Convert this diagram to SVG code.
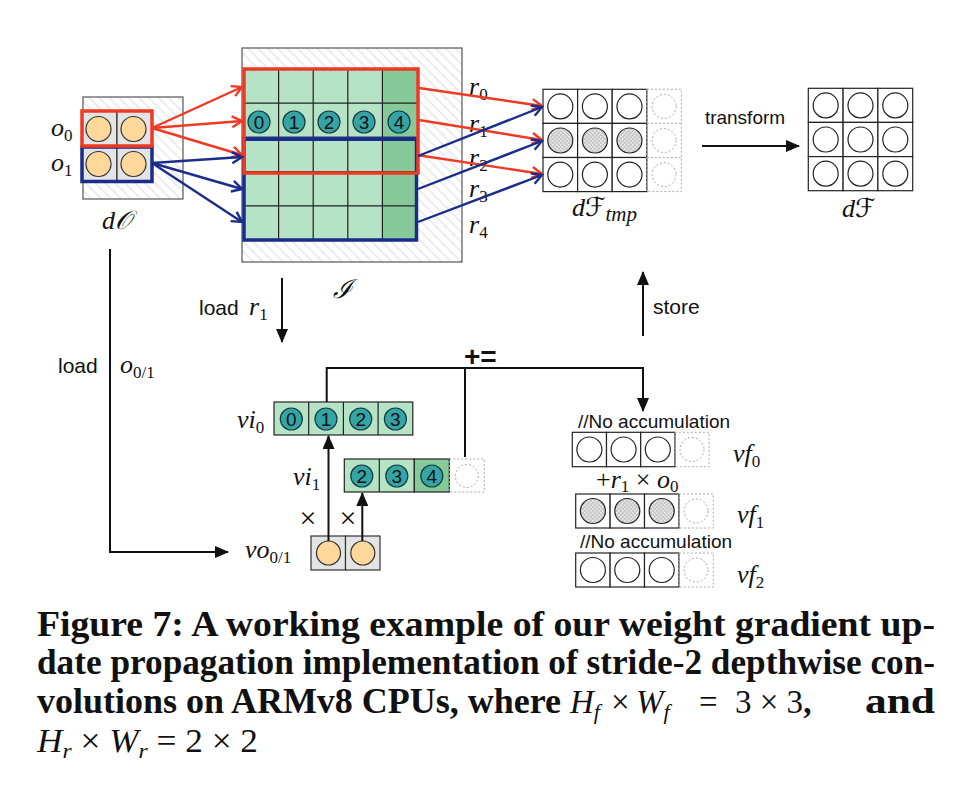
<svg xmlns="http://www.w3.org/2000/svg" width="975" height="786" viewBox="0 0 975 786">
<style>
.frame{fill:url(#hatch);stroke:#555;stroke-width:1.2}
.gcell{fill:#e4e4e4;stroke:#333;stroke-width:1.2}
.peach{fill:#fdd89a;stroke:#333;stroke-width:1.2}
.grn{fill:#b6e2c6}
.dgrn{fill:#86ca9a}
.grid{fill:none;stroke:#222;stroke-width:1.2}
.teal{fill:#35a4a6;stroke:#163c3c;stroke-width:1.2}
.dig{font-family:"Liberation Sans",Arial,sans-serif;font-size:19px;fill:#111;text-anchor:middle}
.wc{fill:#fff;stroke:#222;stroke-width:1.2}
.hc{fill:url(#dots);stroke:#222;stroke-width:1.2}
.dotc{fill:none;stroke:#aaa;stroke-width:1;stroke-dasharray:2 2}
.wcell{fill:#fff;stroke:#222;stroke-width:1.2}
.m{font-family:"Liberation Serif","Times New Roman",serif;font-style:italic;font-size:26px;fill:#111}
.sub{font-size:17px;font-style:normal}
.s{font-family:"Liberation Sans",Arial,sans-serif;fill:#111}
.red{stroke:#ee3a24;stroke-width:2.4;fill:none}
.blue{stroke:#1b2d8c;stroke-width:2.4;fill:none}
.blk{stroke:#111;stroke-width:2;fill:none}
.x{font-family:"Liberation Serif","Times New Roman",serif;font-size:30px;fill:#111;text-anchor:middle}
.cap{font-family:"Liberation Serif","Times New Roman",serif;font-weight:bold;font-size:35px;fill:#111}
.capm{font-family:"Liberation Serif","Times New Roman",serif;font-size:33px;fill:#111}
.it{font-style:italic}
.caps{font-size:22px}
</style>
<defs>
<pattern id="hatch" patternUnits="userSpaceOnUse" width="7" height="7" patternTransform="rotate(-45)">
<rect width="7" height="7" fill="#fff"/>
<rect width="2" height="7" fill="#ececec"/>
</pattern>
<pattern id="dots" patternUnits="userSpaceOnUse" width="4" height="4">
<rect width="4" height="4" fill="#c9c9c9"/>
<rect width="1.6" height="1.6" fill="#ececec"/>
<rect x="2" y="2" width="1.6" height="1.6" fill="#ececec"/>
</pattern>
<marker id="aR" markerWidth="14" markerHeight="14" refX="12" refY="7" orient="auto" markerUnits="userSpaceOnUse">
<path d="M2,1.5 L12,7 L2,12.5" fill="none" stroke="#ee3a24" stroke-width="2.4"/>
</marker>
<marker id="aB" markerWidth="14" markerHeight="14" refX="12" refY="7" orient="auto" markerUnits="userSpaceOnUse">
<path d="M2,1.5 L12,7 L2,12.5" fill="none" stroke="#1b2d8c" stroke-width="2.4"/>
</marker>
<marker id="aK" markerWidth="14" markerHeight="12" refX="13" refY="6" orient="auto" markerUnits="userSpaceOnUse">
<path d="M0,0 L14,6 L0,12 Z" fill="#111"/>
</marker>
</defs>
<rect width="975" height="786" fill="#fff"/>

<g id="dO">
<rect class="frame" x="83" y="97" width="100" height="102"/>
<rect class="gcell" x="82" y="111" width="35" height="35"/>
<rect class="gcell" x="117" y="111" width="35" height="35"/>
<rect class="gcell" x="82" y="146" width="35" height="35"/>
<rect class="gcell" x="117" y="146" width="35" height="35"/>
<circle class="peach" cx="98.5" cy="129" r="12.5"/>
<circle class="peach" cx="133.5" cy="129" r="12.5"/>
<circle class="peach" cx="98.5" cy="164" r="12.5"/>
<circle class="peach" cx="133.5" cy="164" r="12.5"/>
<rect x="82" y="147" width="70" height="34.5" fill="none" stroke="#1b2d8c" stroke-width="3.5"/>
<rect x="82" y="111" width="70" height="35" fill="none" stroke="#ee3a24" stroke-width="3.5"/>
<text class="m" x="51" y="136">o<tspan class="sub" dy="5">0</tspan></text>
<text class="m" x="51" y="171">o<tspan class="sub" dy="5">1</tspan></text>
<text class="m" x="102" y="229" font-size="28">d<tspan font-family="DejaVu Serif,DejaVu Sans,serif">𝒪</tspan></text>
</g>

<g id="I">
<rect class="frame" x="242" y="48" width="220" height="214"/>
<rect class="grn" x="244" y="69" width="138.4" height="171"/>
<rect class="dgrn" x="382.4" y="69" width="34.6" height="171"/>
<path class="grid" d="M278.6,69V240M313.2,69V240M347.8,69V240M382.4,69V240M244,103.2H417M244,137.4H417M244,171.6H417M244,205.8H417"/>
<circle class="teal" cx="259" cy="122" r="11"/>
<circle class="teal" cx="294" cy="122" r="11"/>
<circle class="teal" cx="329" cy="122" r="11"/>
<circle class="teal" cx="364" cy="122" r="11"/>
<circle class="teal" cx="399" cy="122" r="11"/>
<text class="dig" x="259" y="129">0</text>
<text class="dig" x="294" y="129">1</text>
<text class="dig" x="329" y="129">2</text>
<text class="dig" x="364" y="129">3</text>
<text class="dig" x="399" y="129">4</text>
<rect x="244" y="138.5" width="172.5" height="101.5" fill="none" stroke="#1b2d8c" stroke-width="3.5"/>
<rect x="244" y="69" width="174" height="104" fill="none" stroke="#ee3a24" stroke-width="3.5"/>
<rect x="245.8" y="137" width="170" height="4" fill="#1b2d8c"/>
<text class="m" x="333" y="298" font-size="44" font-family="DejaVu Serif,DejaVu Sans,serif">ℐ</text>
<text class="m" x="469" y="95">r<tspan class="sub" dy="5">0</tspan></text>
<text class="m" x="469" y="132">r<tspan class="sub" dy="5">1</tspan></text>
<text class="m" x="469" y="166">r<tspan class="sub" dy="5">2</tspan></text>
<text class="m" x="469" y="197">r<tspan class="sub" dy="5">3</tspan></text>
<text class="m" x="469" y="233">r<tspan class="sub" dy="5">4</tspan></text>
</g>

<g id="dFtmp">
<rect class="wcell" x="543" y="89.3" width="34.6" height="34.1"/>
<rect class="wcell" x="577.6" y="89.3" width="34.6" height="34.1"/>
<rect class="wcell" x="612.2" y="89.3" width="34.6" height="34.1"/>
<rect class="wcell" x="543" y="123.4" width="34.6" height="34.1"/>
<rect class="wcell" x="577.6" y="123.4" width="34.6" height="34.1"/>
<rect class="wcell" x="612.2" y="123.4" width="34.6" height="34.1"/>
<rect class="wcell" x="543" y="157.5" width="34.6" height="34.1"/>
<rect class="wcell" x="577.6" y="157.5" width="34.6" height="34.1"/>
<rect class="wcell" x="612.2" y="157.5" width="34.6" height="34.1"/>
<rect x="646.8" y="89.3" width="34.6" height="102.3" fill="none" stroke="#aaa" stroke-width="1" stroke-dasharray="2 2"/>
<path d="M646.8,123.4H681.4M646.8,157.5H681.4" stroke="#aaa" stroke-width="1" stroke-dasharray="2 2"/>
<circle class="wc" cx="560.3" cy="106.4" r="12.5"/>
<circle class="wc" cx="594.9" cy="106.4" r="12.5"/>
<circle class="wc" cx="629.5" cy="106.4" r="12.5"/>
<circle class="hc" cx="560.3" cy="140.5" r="12.5"/>
<circle class="hc" cx="594.9" cy="140.5" r="12.5"/>
<circle class="hc" cx="629.5" cy="140.5" r="12.5"/>
<circle class="wc" cx="560.3" cy="174.6" r="12.5"/>
<circle class="wc" cx="594.9" cy="174.6" r="12.5"/>
<circle class="wc" cx="629.5" cy="174.6" r="12.5"/>
<circle class="dotc" cx="664.1" cy="106.4" r="12"/>
<circle class="dotc" cx="664.1" cy="140.5" r="12"/>
<circle class="dotc" cx="664.1" cy="174.6" r="12"/>
<text class="m" x="572" y="216" font-size="28">d<tspan font-family="DejaVu Serif,DejaVu Sans,serif">ℱ</tspan><tspan font-size="21" dy="5">tmp</tspan></text>
</g>

<g id="dF">
<rect class="wcell" x="808.3" y="88.3" width="34.8" height="34.1"/>
<rect class="wcell" x="843.1" y="88.3" width="34.8" height="34.1"/>
<rect class="wcell" x="877.9" y="88.3" width="34.8" height="34.1"/>
<rect class="wcell" x="808.3" y="122.4" width="34.8" height="34.2"/>
<rect class="wcell" x="843.1" y="122.4" width="34.8" height="34.2"/>
<rect class="wcell" x="877.9" y="122.4" width="34.8" height="34.2"/>
<rect class="wcell" x="808.3" y="156.6" width="34.8" height="34.1"/>
<rect class="wcell" x="843.1" y="156.6" width="34.8" height="34.1"/>
<rect class="wcell" x="877.9" y="156.6" width="34.8" height="34.1"/>
<circle class="wc" cx="825.7" cy="105.4" r="12.5"/>
<circle class="wc" cx="860.5" cy="105.4" r="12.5"/>
<circle class="wc" cx="895.3" cy="105.4" r="12.5"/>
<circle class="wc" cx="825.7" cy="139.5" r="12.5"/>
<circle class="wc" cx="860.5" cy="139.5" r="12.5"/>
<circle class="wc" cx="895.3" cy="139.5" r="12.5"/>
<circle class="wc" cx="825.7" cy="173.7" r="12.5"/>
<circle class="wc" cx="860.5" cy="173.7" r="12.5"/>
<circle class="wc" cx="895.3" cy="173.7" r="12.5"/>
<text class="m" x="842" y="217" font-size="28">d<tspan font-family="DejaVu Serif,DejaVu Sans,serif">ℱ</tspan></text>
</g>

<g id="vi0">
<rect class="grn" x="274" y="402" width="138.8" height="33" stroke="#222" stroke-width="1.2"/>
<path class="grid" d="M308.7,402V435M343.4,402V435M378.1,402V435"/>
<circle class="teal" cx="291.3" cy="419" r="11"/>
<circle class="teal" cx="326" cy="419" r="11"/>
<circle class="teal" cx="360.7" cy="419" r="11"/>
<circle class="teal" cx="395.4" cy="419" r="11"/>
<text class="dig" x="291.3" y="426">0</text>
<text class="dig" x="326" y="426">1</text>
<text class="dig" x="360.7" y="426">2</text>
<text class="dig" x="395.4" y="426">3</text>
<text class="m" x="237" y="428">vi<tspan class="sub" dy="5">0</tspan></text>
</g>

<g id="vi1">
<rect class="grn" x="344.3" y="459" width="70" height="33" stroke="#222" stroke-width="1.2"/>
<rect class="dgrn" x="414.3" y="459" width="35" height="33" stroke="#222" stroke-width="1.2"/>
<path class="grid" d="M379.3,459V492"/>
<rect x="449.3" y="459" width="35" height="33" fill="none" stroke="#aaa" stroke-width="1" stroke-dasharray="2 2"/>
<circle class="teal" cx="361.8" cy="476" r="11"/>
<circle class="teal" cx="396.8" cy="476" r="11"/>
<circle class="teal" cx="431.8" cy="476" r="11"/>
<circle class="dotc" cx="466.8" cy="476" r="11.5"/>
<text class="dig" x="361.8" y="483">2</text>
<text class="dig" x="396.8" y="483">3</text>
<text class="dig" x="431.8" y="483">4</text>
<text class="m" x="293" y="485">vi<tspan class="sub" dy="5">1</tspan></text>
</g>

<g id="vo">
<rect class="gcell" x="311" y="536" width="34.5" height="34"/>
<rect class="gcell" x="345.5" y="536" width="34.5" height="34"/>
<circle class="peach" cx="328.5" cy="553" r="12"/>
<circle class="peach" cx="362.8" cy="553" r="12"/>
<text class="m" x="245" y="558">vo<tspan class="sub" dy="5">0/1</tspan></text>
</g>

<g id="vf0">
<rect class="wcell" x="572.3" y="432.3" width="34.2" height="34.4"/>
<rect class="wcell" x="606.5" y="432.3" width="34.2" height="34.4"/>
<rect class="wcell" x="640.7" y="432.3" width="34.2" height="34.4"/>
<rect x="674.9" y="432.3" width="34.2" height="34.4" fill="none" stroke="#aaa" stroke-width="1" stroke-dasharray="2 2"/>
<circle class="wc" cx="589.4" cy="449.5" r="12.5"/>
<circle class="wc" cx="623.6" cy="449.5" r="12.5"/>
<circle class="wc" cx="657.8" cy="449.5" r="12.5"/>
<circle class="dotc" cx="692" cy="449.5" r="12"/>
<text class="s" x="578" y="428" font-size="19">//No accumulation</text>
<text class="m" x="733" y="462" font-size="29">vf<tspan class="sub" font-size="19" dy="5">0</tspan></text>
</g>

<g id="vf1">
<rect class="wcell" x="575.7" y="494" width="34.4" height="34"/>
<rect class="wcell" x="610.1" y="494" width="34.4" height="34"/>
<rect class="wcell" x="644.5" y="494" width="34.4" height="34"/>
<rect x="678.9" y="494" width="34.4" height="34" fill="none" stroke="#aaa" stroke-width="1" stroke-dasharray="2 2"/>
<circle class="hc" cx="592.9" cy="511" r="12.5"/>
<circle class="hc" cx="627.3" cy="511" r="12.5"/>
<circle class="hc" cx="661.7" cy="511" r="12.5"/>
<circle class="dotc" cx="696.1" cy="511" r="12"/>
<text class="m" x="596" y="488" font-size="23"><tspan font-style="normal">+</tspan>r<tspan class="sub" font-size="15" dy="4">1</tspan><tspan font-style="normal" dy="-4"> × </tspan>o<tspan class="sub" font-size="15" dy="4">0</tspan></text>
<text class="m" x="737" y="523" font-size="29">vf<tspan class="sub" font-size="19" dy="5">1</tspan></text>
</g>

<g id="vf2">
<rect class="wcell" x="575.7" y="553" width="34.4" height="34"/>
<rect class="wcell" x="610.1" y="553" width="34.4" height="34"/>
<rect class="wcell" x="644.5" y="553" width="34.4" height="34"/>
<rect x="678.9" y="553" width="34.4" height="34" fill="none" stroke="#aaa" stroke-width="1" stroke-dasharray="2 2"/>
<circle class="wc" cx="592.9" cy="570" r="12.5"/>
<circle class="wc" cx="627.3" cy="570" r="12.5"/>
<circle class="wc" cx="661.7" cy="570" r="12.5"/>
<circle class="dotc" cx="696.1" cy="570" r="12"/>
<text class="s" x="580" y="548" font-size="19">//No accumulation</text>
<text class="m" x="737" y="583" font-size="29">vf<tspan class="sub" font-size="19" dy="5">2</tspan></text>
</g>

<g id="connectors">
<line class="red" x1="152" y1="128" x2="242" y2="87" marker-end="url(#aR)"/>
<line class="red" x1="152" y1="128" x2="242" y2="121" marker-end="url(#aR)"/>
<line class="red" x1="152" y1="128" x2="242" y2="155" marker-end="url(#aR)"/>
<line class="blue" x1="152" y1="163" x2="242" y2="157" marker-end="url(#aB)"/>
<line class="blue" x1="152" y1="163" x2="242" y2="189" marker-end="url(#aB)"/>
<line class="blue" x1="152" y1="163" x2="242" y2="222" marker-end="url(#aB)"/>
<line class="red" x1="419" y1="88" x2="542" y2="106" marker-end="url(#aR)"/>
<line class="red" x1="419" y1="120" x2="542" y2="140" marker-end="url(#aR)"/>
<line class="red" x1="417" y1="155" x2="542" y2="174" marker-end="url(#aR)"/>
<line class="blue" x1="418" y1="156" x2="542" y2="107" marker-end="url(#aB)"/>
<line class="blue" x1="418" y1="189" x2="542" y2="141" marker-end="url(#aB)"/>
<line class="blue" x1="418" y1="222" x2="542" y2="175" marker-end="url(#aB)"/>
<line class="blk" x1="702" y1="146" x2="799" y2="146" marker-end="url(#aK)"/>
<text class="s" x="745" y="124" font-size="19" text-anchor="middle">transform</text>
<line class="blk" x1="643" y1="336" x2="643" y2="272" marker-end="url(#aK)"/>
<text class="s" x="653" y="314" font-size="21">store</text>
<line class="blk" x1="282" y1="278" x2="282" y2="342" marker-end="url(#aK)"/>
<text class="s" x="199" y="315" font-size="21">load</text>
<text class="m" x="249" y="315">r<tspan class="sub" dy="5">1</tspan></text>
<polyline class="blk" points="110,249 110,552 228,552" marker-end="url(#aK)"/>
<text class="s" x="58" y="373" font-size="21">load</text>
<text class="m" x="120" y="373">o<tspan class="sub" dy="5">0/1</tspan></text>
<polyline class="blk" points="326.7,402 326.7,368 643,368 643,411" marker-end="url(#aK)"/>
<line class="blk" x1="465" y1="368" x2="465" y2="457"/>
<text class="s" x="464" y="366" font-size="28" font-weight="bold">+=</text>
<line class="blk" x1="328.5" y1="541" x2="328.5" y2="436" marker-end="url(#aK)"/>
<line class="blk" x1="362.3" y1="541" x2="362.3" y2="493" marker-end="url(#aK)"/>
<text class="x" x="308" y="528">×</text>
<text class="x" x="348" y="528">×</text>
</g>

<g id="caption">
<text class="cap" x="37" y="636" textLength="898" lengthAdjust="spacingAndGlyphs">Figure 7: A working example of our weight gradient up-</text>
<text class="cap" x="37" y="674" textLength="898" lengthAdjust="spacingAndGlyphs">date propagation implementation of stride-2 depthwise con-</text>
<text class="cap" x="37" y="713" textLength="524" lengthAdjust="spacingAndGlyphs">volutions on ARMv8 CPUs, where</text>
<text class="capm it" x="570" y="713">H<tspan class="caps" dy="6">f</tspan></text>
<text class="capm" x="611" y="713">×</text>
<text class="capm it" x="636" y="713">W<tspan class="caps" dy="6">f</tspan></text>
<text class="capm" x="699" y="713">=</text>
<text class="capm" x="735" y="713">3 × 3<tspan font-weight="bold">,</tspan></text>
<text class="cap" x="935" y="713" text-anchor="end" textLength="70" lengthAdjust="spacingAndGlyphs">and</text>
<text class="capm" x="37" y="752" textLength="221" lengthAdjust="spacingAndGlyphs"><tspan class="it">H</tspan><tspan class="caps it" dy="6">r</tspan><tspan dy="-6"> × </tspan><tspan class="it">W</tspan><tspan class="caps it" dy="6">r</tspan><tspan dy="-6"> = 2 × 2</tspan></text>
</g>
</svg>
